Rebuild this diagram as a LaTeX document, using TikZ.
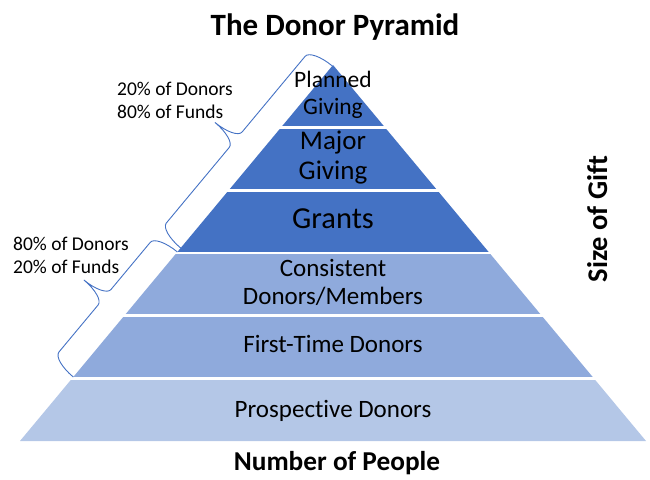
\documentclass[tikz,border=0pt]{standalone}
\usepackage{fontspec}
\setmainfont{Carlito}[Ligatures=NoCommon]
\usetikzlibrary{calc}
\definecolor{darkband}{HTML}{4472C4}
\definecolor{midband}{HTML}{8FAADC}
\definecolor{lightband}{HTML}{B4C7E7}
\tikzset{% styles for the labels, and a pic for the curly braces
   bandlabel/.style={align=center, inner sep=0pt, anchor=base},
   notelabel/.style={align=left, inner sep=0pt, anchor=base west,
                     font=\fontsize{19.5}{23.3}\selectfont},
   axislabel/.style={inner sep=0pt, anchor=base,
                     font=\bfseries\fontsize{27.3}{30}\selectfont},
   pics/curlybrace/.style={
     code={\draw[darkband, line width=0.9pt]
             (0,0) arc[start angle=180, end angle=90, x radius=10pt, y radius=27pt]
             -- ({#1/2-10},27) arc[start angle=-90, end angle=0, x radius=10pt, y radius=27pt]
             arc[start angle=180, end angle=270, x radius=10pt, y radius=27pt]
             -- ({#1-10},27) arc[start angle=90, end angle=0, x radius=10pt, y radius=27pt];
     }
   }
}
\begin{document}
\begin{tikzpicture}[x=1pt, y=1pt]
   \useasboundingbox (0,0) rectangle (650,479);
   \coordinate (apex) at (333,414);
   \coordinate (baseL) at (20,38);
   \coordinate (baseR) at (646,38);
   % the six bands, from the bottom up
   \foreach \i/\col in {0/lightband, 1/midband, 2/midband, 3/darkband, 4/darkband, 5/darkband} {
      \pgfmathsetmacro\lo{\i/6}
      \pgfmathsetmacro\hi{(\i+1)/6}
      \fill[\col] ($(baseL)!\lo!(apex)$) -- ($(baseR)!\lo!(apex)$)
                  -- ($(baseR)!\hi!(apex)$) -- ($(baseL)!\hi!(apex)$) -- cycle;
   }
   \foreach \i in {1,...,5} {
      \pgfmathsetmacro\t{\i/6}
      \draw[white, line width=2.5pt] ($(baseL)!\t!(apex) + (-3,0)$) -- ($(baseR)!\t!(apex) + (3,0)$);
   }
   % band texts (base is the last line)
   \node[bandlabel, font=\fontsize{25}{28}\selectfont] (prospective) at (333,61.7) {Prospective Donors};
   \node[bandlabel, font=\fontsize{25}{28}\selectfont] (firsttime) at (333,126) {First-Time Donors};
   \node[bandlabel, font=\fontsize{25}{28}\selectfont] (consistent) at (333,174) {Consistent\\Donors/Members};
   \node[bandlabel, font=\fontsize{30.5}{34}\selectfont] (grants) at (333,250.5) {Grants};
   \node[bandlabel, font=\fontsize{27}{30}\selectfont] (major) at (333,299) {Major\\Giving};
   \node[bandlabel, font=\fontsize{23.5}{27.7}\selectfont] (planned) at (333,364) {Planned\\Giving};
   % title and axes
   \node[bandlabel, font=\bfseries\fontsize{31}{36}\selectfont] (title) at (335,443) {The Donor Pyramid};
   \node[axislabel] (people) at (337,8.3) {Number of People};
   \node[axislabel, rotate=90, font=\bfseries\fontsize{28.5}{30}\selectfont] (gift) at (607,260) {Size of Gift};
   % braces along the left side
   \coordinate (ubrace) at ($(apex)!0.4867!(baseL)$);
   \coordinate (lbrace) at ($(apex)!0.8298!(baseL)$);
   \pic[rotate=50.22] (upperbrace) at (ubrace) {curlybrace=236.9};
   \pic[rotate=50.22] (lowerbrace) at (lbrace) {curlybrace=162.7};
   \node[notelabel] (topshare) at (117,360) {20\% of Donors\\80\% of Funds};
   \node[notelabel] (baseshare) at (13,205) {80\% of Donors\\20\% of Funds};
\end{tikzpicture}
\end{document}
